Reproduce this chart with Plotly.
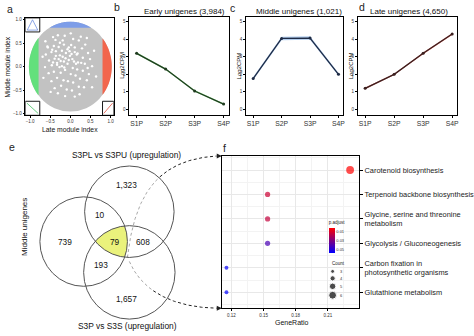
import numpy as np
import plotly.graph_objects as go

W, H = 474, 336
FONT = "Liberation Sans, Arial, sans-serif"

# ---------------- data ----------------
stages = ["S1P", "S2P", "S3P", "S4P"]
early_cpm = [3.2, 2.3, 1.05, 0.3]
early_se = [0.06, 0.05, 0.05, 0.05]
middle_cpm = [1.76, 4.05, 4.07, 2.0]
middle_se = [0.09, 0.1, 0.1, 0.08]
late_cpm = [1.2, 2.0, 3.2, 4.3]
late_se = [0.05, 0.04, 0.05, 0.05]
panel_titles = ["Early unigenes (3,984)", "Middle unigenes (1,021)", "Late unigenes (4,650)"]

module_late = [-0.62, -0.43, -0.31, -0.14, 0.07, 0.21, 0.37, -0.56, -0.41, -0.26, -0.16, 0.02, 0.11, 0.29, 0.44,
               -0.61, -0.47, -0.36, -0.21, -0.11, 0.03, 0.16, 0.31, 0.49, -0.53, -0.39, -0.29, -0.19, -0.04,
               0.09, 0.19, 0.36, 0.54, -0.63, -0.46, -0.33, -0.21, -0.07, 0.06, 0.17, 0.31, 0.46, -0.54, -0.41,
               -0.24, -0.13, 0.01, 0.13, 0.24, 0.41, -0.47, -0.33, -0.17, -0.06, 0.07, 0.21, 0.34, -0.39, -0.23,
               -0.09, 0.04, 0.23, -0.31, -0.13, 0.11, -0.26, -0.16, -0.36, -0.07, -0.43, 0.11, -0.27, 0.14,
               -0.01, 0.59, 0.64, -0.69, -0.67, 0.54, 0.41, -0.49, 0.01, -0.19, -0.37, 0.26, -0.04, -0.57, 0.43,
               -0.24, -0.33, -0.12, -0.02, 0.18, -0.45, -0.29, 0.05, -0.15, 0.27]
module_middle = [0.54, 0.63, 0.67, 0.66, 0.59, 0.56, 0.47, 0.41, 0.44, 0.51, 0.47, 0.46, 0.41, 0.39, 0.29,
                 0.26, 0.31, 0.33, 0.34, 0.29, 0.27, 0.26, 0.19, 0.16, 0.13, 0.17, 0.16, 0.21, 0.14,
                 0.11, 0.09, 0.06, 0.01, -0.01, 0.03, 0.04, 0.01, 0.06, -0.03, -0.06, -0.09, -0.16, -0.14, -0.11,
                 -0.13, -0.07, -0.16, -0.19, -0.26, -0.29, -0.31, -0.24, -0.29, -0.31, -0.34, -0.43, -0.44, -0.46, -0.41,
                 -0.49, -0.51, -0.59, -0.57, -0.63, -0.64, 0.24, 0.11, 0.23, 0.37, 0.09, 0.31, -0.01, 0.06,
                 0.23, 0.34, -0.21, 0.21, -0.24, -0.44, 0.61, -0.54, 0.71, 0.56, 0.57, 0.64, 0.41, 0.43, -0.03,
                 0.12, 0.08, 0.18, 0.33, 0.28, 0.36, 0.42, 0.16, -0.02, 0.08]

venn_sets = ["S3PL vs S3PU (upregulation)", "Middle unigenes", "S3P vs S3S (upregulation)"]
venn_regions = ["top only", "top & left", "left only", "all three", "top & bottom", "left & bottom", "bottom only"]
venn_counts = [1323, 10, 739, 79, 608, 193, 1657]

pathways = ["Carotenoid biosynthesis", "Terpenoid backbone biosynthesis",
            "Glycine, serine and threonine<br>metabolism", "Glycolysis / Gluconeogenesis",
            "Carbon fixation in<br>photosynthetic organisms", "Glutathione metabolism"]
gene_ratio = [0.2308, 0.1538, 0.1538, 0.1538, 0.1154, 0.1154]
gene_count = [6, 4, 4, 4, 3, 3]
p_adjust = [0.001, 0.012, 0.014, 0.040, 0.055, 0.056]
count_legend = [3, 4, 5, 6]

SIZE_PER_COUNT = 1.3


def dom_x(l, r):
    return [l / W, r / W]


def dom_y(t, b):
    return [1 - b / H, 1 - t / H]


fig = go.Figure()
shapes = []
annotations = []


def ann(x, y, text, size, xanchor="center", angle=0, color="#111"):
    annotations.append(dict(x=x, y=y, xref="x6", yref="y6", text=text, showarrow=False,
                            xanchor=xanchor, yanchor="middle", textangle=angle,
                            font=dict(size=size, color=color, family=FONT)))


frame = dict(showline=True, mirror=True, linecolor="black", linewidth=1, showgrid=False,
             zeroline=False, ticks="outside", ticklen=2, tickwidth=0.7, tickcolor="black",
             tickfont=dict(size=4.5, color="#333", family=FONT))

layout_axes = {}

# ---------------- panel a ----------------
fig.add_trace(go.Scatter(x=module_late, y=module_middle, mode="markers",
                         marker=dict(color="white", size=2.4, line=dict(width=0)),
                         xaxis="x", yaxis="y", showlegend=False, hoverinfo="skip"))
layout_axes["xaxis"] = dict(frame, domain=dom_x(26, 117), range=[-1.12, 1.08], anchor="y",
                            tickvals=[-1, -0.5, 0, 0.5, 1], tickformat=".1f", ticklen=1.5)
layout_axes["yaxis"] = dict(frame, domain=dom_y(17, 115), range=[-1.04, 1.04], anchor="x",
                            tickvals=[-1, -0.5, 0, 0.5, 1], tickformat=".1f", ticklen=1.5)
RX, RY = 1.03, 0.96
shapes.append(dict(type="circle", xref="x", yref="y", x0=-RX, x1=RX, y0=-RY, y1=RY,
                   fillcolor="#c2c2c2", line=dict(width=0), layer="below"))


def cap(t0, t1, color):
    t = np.linspace(t0, t1, 120)
    xs, ys = RX * np.cos(t), RY * np.sin(t)
    p = "M " + " L ".join(f"{a:.4f},{b:.4f}" for a, b in zip(xs, ys)) + " Z"
    shapes.append(dict(type="path", path=p, xref="x", yref="y", fillcolor=color,
                       line=dict(width=0), layer="below"))


a_g = np.arccos(0.79 / RX)
cap(np.pi - a_g, np.pi + a_g, "#63e07c")
a_r = np.arccos(0.80 / RX)
cap(-a_r, a_r, "#f2664d")
b_b = np.arcsin(0.83 / RY)
cap(b_b, np.pi - b_b, "#7d9de8")
for (x0, x1, y0, y1) in [(-1.12, -0.76, 0.74, 1.04), (-1.12, -0.76, -1.04, -0.74), (0.80, 1.08, -1.04, -0.74)]:
    shapes.append(dict(type="rect", xref="x", yref="y", x0=x0, x1=x1, y0=y0, y1=y1,
                       fillcolor="white", line=dict(color="black", width=0.9), layer="below"))
shapes.append(dict(type="path", xref="x", yref="y", path="M -1.07,0.78 L -0.94,1.0 L -0.81,0.78 Z",
                   line=dict(color="#6f8fe0", width=0.8), layer="below"))
shapes.append(dict(type="line", xref="x", yref="y", x0=-1.08, y0=-0.78, x1=-0.80, y1=-1.0,
                   line=dict(color="#40c060", width=0.8), layer="below"))
shapes.append(dict(type="line", xref="x", yref="y", x0=0.83, y0=-1.0, x1=1.05, y1=-0.78,
                   line=dict(color="#e05040", width=0.8), layer="below"))
ann(72, 129, "Late module index", 6.8)
ann(8, 66, "Middle module index", 6.6, angle=-90)

# ---------------- panels b, c, d ----------------
series = [(early_cpm, early_se, "#1f3b1f", "rgba(120,220,120,0.8)"),
          (middle_cpm, middle_se, "#1e2b45", "rgba(170,200,235,0.9)"),
          (late_cpm, late_se, "#3a1f1f", "rgba(225,90,80,0.85)")]
lefts, rights, title_cx = [133, 253, 368], [235, 353, 470], [190, 307, 421]
xi = list(range(len(stages)))
for k, ((vals, se, lc, rc), l, r, tc, ttl) in enumerate(zip(series, lefts, rights, title_cx, panel_titles)):
    ax = k + 2
    up = [v + s for v, s in zip(vals, se)]
    lo = [v - s for v, s in zip(vals, se)]
    fig.add_trace(go.Scatter(x=xi, y=up, mode="lines", line=dict(width=0), xaxis=f"x{ax}", yaxis=f"y{ax}",
                             showlegend=False, hoverinfo="skip"))
    fig.add_trace(go.Scatter(x=xi, y=lo, mode="lines", line=dict(width=0), fill="tonexty", fillcolor=rc,
                             xaxis=f"x{ax}", yaxis=f"y{ax}", showlegend=False, hoverinfo="skip"))
    fig.add_trace(go.Scatter(x=xi, y=vals, mode="lines+markers", line=dict(color=lc, width=1.3),
                             marker=dict(color=lc, size=3), xaxis=f"x{ax}", yaxis=f"y{ax}", showlegend=False))
    layout_axes[f"xaxis{ax}"] = dict(frame, domain=dom_x(l, r), range=[-0.25, 3.17], anchor=f"y{ax}",
                                     tickvals=xi, ticktext=stages,
                                     tickfont=dict(size=6.8, color="#333", family=FONT))
    layout_axes[f"yaxis{ax}"] = dict(frame, domain=dom_y(16, 115), range=[-0.34, 5.28], anchor=f"x{ax}",
                                     tickvals=[0, 1, 2, 3, 4, 5])
    ann(tc, 11, ttl, 8)
    ann(l - 7.5, 65, "Log2CPM", 6, angle=-90)

# ---------------- panel f ----------------
yi = list(range(len(pathways)))
fig.add_trace(go.Scatter(
    x=gene_ratio, y=yi, mode="markers", xaxis="x5", yaxis="y5", showlegend=False,
    marker=dict(size=[c * SIZE_PER_COUNT for c in gene_count], color=[-p for p in p_adjust],
                colorscale=[[0, "#0000ff"], [1, "#ff0000"]], cmin=-0.056, cmax=-0.001,
                line=dict(width=0),
                colorbar=dict(x=338 / W, xanchor="left", y=1 - 218 / H, yanchor="top",
                              len=35, lenmode="pixels", thickness=6, thicknessmode="pixels",
                              outlinewidth=0, xpad=0, ypad=0, ticks="",
                              tickvals=[-0.05, -0.03, -0.01], ticktext=["0.05", "0.03", "0.01"],
                              tickfont=dict(size=4, color="#333", family=FONT),
                              title=dict(text="p.adjust", side="top",
                                         font=dict(size=4.5, color="#222", family=FONT))))))
layout_axes["xaxis5"] = dict(frame, domain=dom_x(228, 369), range=[0.111, 0.239], anchor="y5",
                             linewidth=1.3, tickmode="linear", tick0=0.12, dtick=0.03, tickformat=".2f",
                             showgrid=True, gridcolor="#e8e8e8", gridwidth=0.6,
                             minor=dict(tickmode="linear", tick0=0.105, dtick=0.03, showgrid=True,
                                        gridcolor="#f3f3f3", gridwidth=0.5, ticks=""))
layout_axes["yaxis5"] = dict(frame, domain=dom_y(156, 309), range=[5.65, -0.57], anchor="x5", side="right",
                             linewidth=1.3, tickvals=yi, ticktext=pathways, ticklen=3,
                             tickfont=dict(size=7.4, color="#222", family=FONT),
                             showgrid=True, gridcolor="#e8e8e8", gridwidth=0.6,
                             minor=dict(tickmode="array", tickvals=[v + 0.5 for v in [-1] + yi],
                                        showgrid=True, gridcolor="#f3f3f3", gridwidth=0.5, ticks=""))
ann(300, 323, "GeneRatio", 7)
# count legend
leg_y = [272, 279, 287, 296]
fig.add_trace(go.Scatter(x=[342] * len(count_legend), y=leg_y, mode="markers", xaxis="x6", yaxis="y6",
                         marker=dict(color="black", size=[c * SIZE_PER_COUNT for c in count_legend]),
                         showlegend=False, hoverinfo="skip"))
for c, yy in zip(count_legend, leg_y):
    ann(348, yy, str(c), 4, xanchor="left", color="#333")
ann(339, 264, "Count", 4.5, xanchor="left", color="#222")

# ---------------- panel e (Venn) ----------------
circles = [(133, 212, 46), (86, 242, 45), (133, 273, 47)]
th = np.linspace(0, 2 * np.pi, 1441)
pts = []
for i, (cx, cy, r) in enumerate(circles):
    px_, py_ = cx + r * np.cos(th), cy + r * np.sin(th)
    ok = np.ones_like(px_, dtype=bool)
    for j, (cx2, cy2, r2) in enumerate(circles):
        if j != i:
            ok &= (px_ - cx2) ** 2 + (py_ - cy2) ** 2 <= r2 ** 2 + 1e-6
    pts += list(zip(px_[ok], py_[ok]))
pts = np.array(pts)
cen = pts.mean(axis=0)
pts = pts[np.argsort(np.arctan2(pts[:, 1] - cen[1], pts[:, 0] - cen[0]))]
shapes.append(dict(type="path", xref="x6", yref="y6",
                   path="M " + " L ".join(f"{a:.2f},{b:.2f}" for a, b in pts) + " Z",
                   fillcolor="#eaf27c", line=dict(width=0), layer="above"))
for (cx, cy, r) in circles:
    shapes.append(dict(type="circle", xref="x6", yref="y6", x0=cx - r, x1=cx + r, y0=cy - r, y1=cy + r,
                       line=dict(color="#555555", width=1), fillcolor="rgba(0,0,0,0)", layer="above"))
label_pos = [(130, 185), (103, 215), (67, 242), (118, 242), (147, 242), (104, 266), (130, 300)]
for (x, y), v in zip(label_pos, venn_counts):
    ann(x, y, f"{v:,}", 8.3)
ann(130, 155, venn_sets[0], 8.4)
ann(25, 227, venn_sets[1], 8, angle=-90)
ann(131, 327, venn_sets[2], 8.4)


def bez(p, t):
    t = np.asarray(t)[:, None]
    p = np.array(p, dtype=float)
    return ((1 - t) ** 3) * p[0] + 3 * ((1 - t) ** 2) * t * p[1] + 3 * (1 - t) * t ** 2 * p[2] + t ** 3 * p[3]


curves = [([(131, 258), (138, 200), (158, 160), (222, 156)], 0.6),
          ([(133, 262), (145, 290), (175, 308), (222, 309)], 0.42)]
for ctrl, split in curves:
    for (t0, t1, col) in [(0, split, "#a8a8a8"), (split, 1, "#222222")]:
        c = bez(ctrl, np.linspace(t0, t1, 60))
        fig.add_trace(go.Scatter(x=c[:, 0], y=c[:, 1], mode="lines", xaxis="x6", yaxis="y6",
                                 line=dict(color=col, width=1, dash="3px,2.5px"),
                                 showlegend=False, hoverinfo="skip"))
for yy in [156, 309]:
    annotations.append(dict(x=228, y=yy, ax=221, ay=yy, xref="x6", yref="y6", axref="x6", ayref="y6",
                            text="", showarrow=True, arrowhead=2, arrowsize=1, arrowwidth=1,
                            arrowcolor="#222", standoff=0))

# panel letters
for letter, (x, y) in zip("abcdef", [(10, 8), (120, 6), (239, 7), (372, 6), (12, 147), (231, 148)]):
    ann(x, y, letter, 10.5, color="#222")

layout_axes["xaxis6"] = dict(domain=[0, 1], range=[0, W], visible=False, fixedrange=True, anchor="y6")
layout_axes["yaxis6"] = dict(domain=[0, 1], range=[H, 0], visible=False, fixedrange=True, anchor="x6")

fig.update_layout(width=W, height=H, autosize=False, margin=dict(l=0, r=0, t=0, b=0),
                  paper_bgcolor="white", plot_bgcolor="rgba(0,0,0,0)",
                  font=dict(family=FONT, color="#222"),
                  shapes=shapes, annotations=annotations, **layout_axes)
fig.write_html("out.html")
